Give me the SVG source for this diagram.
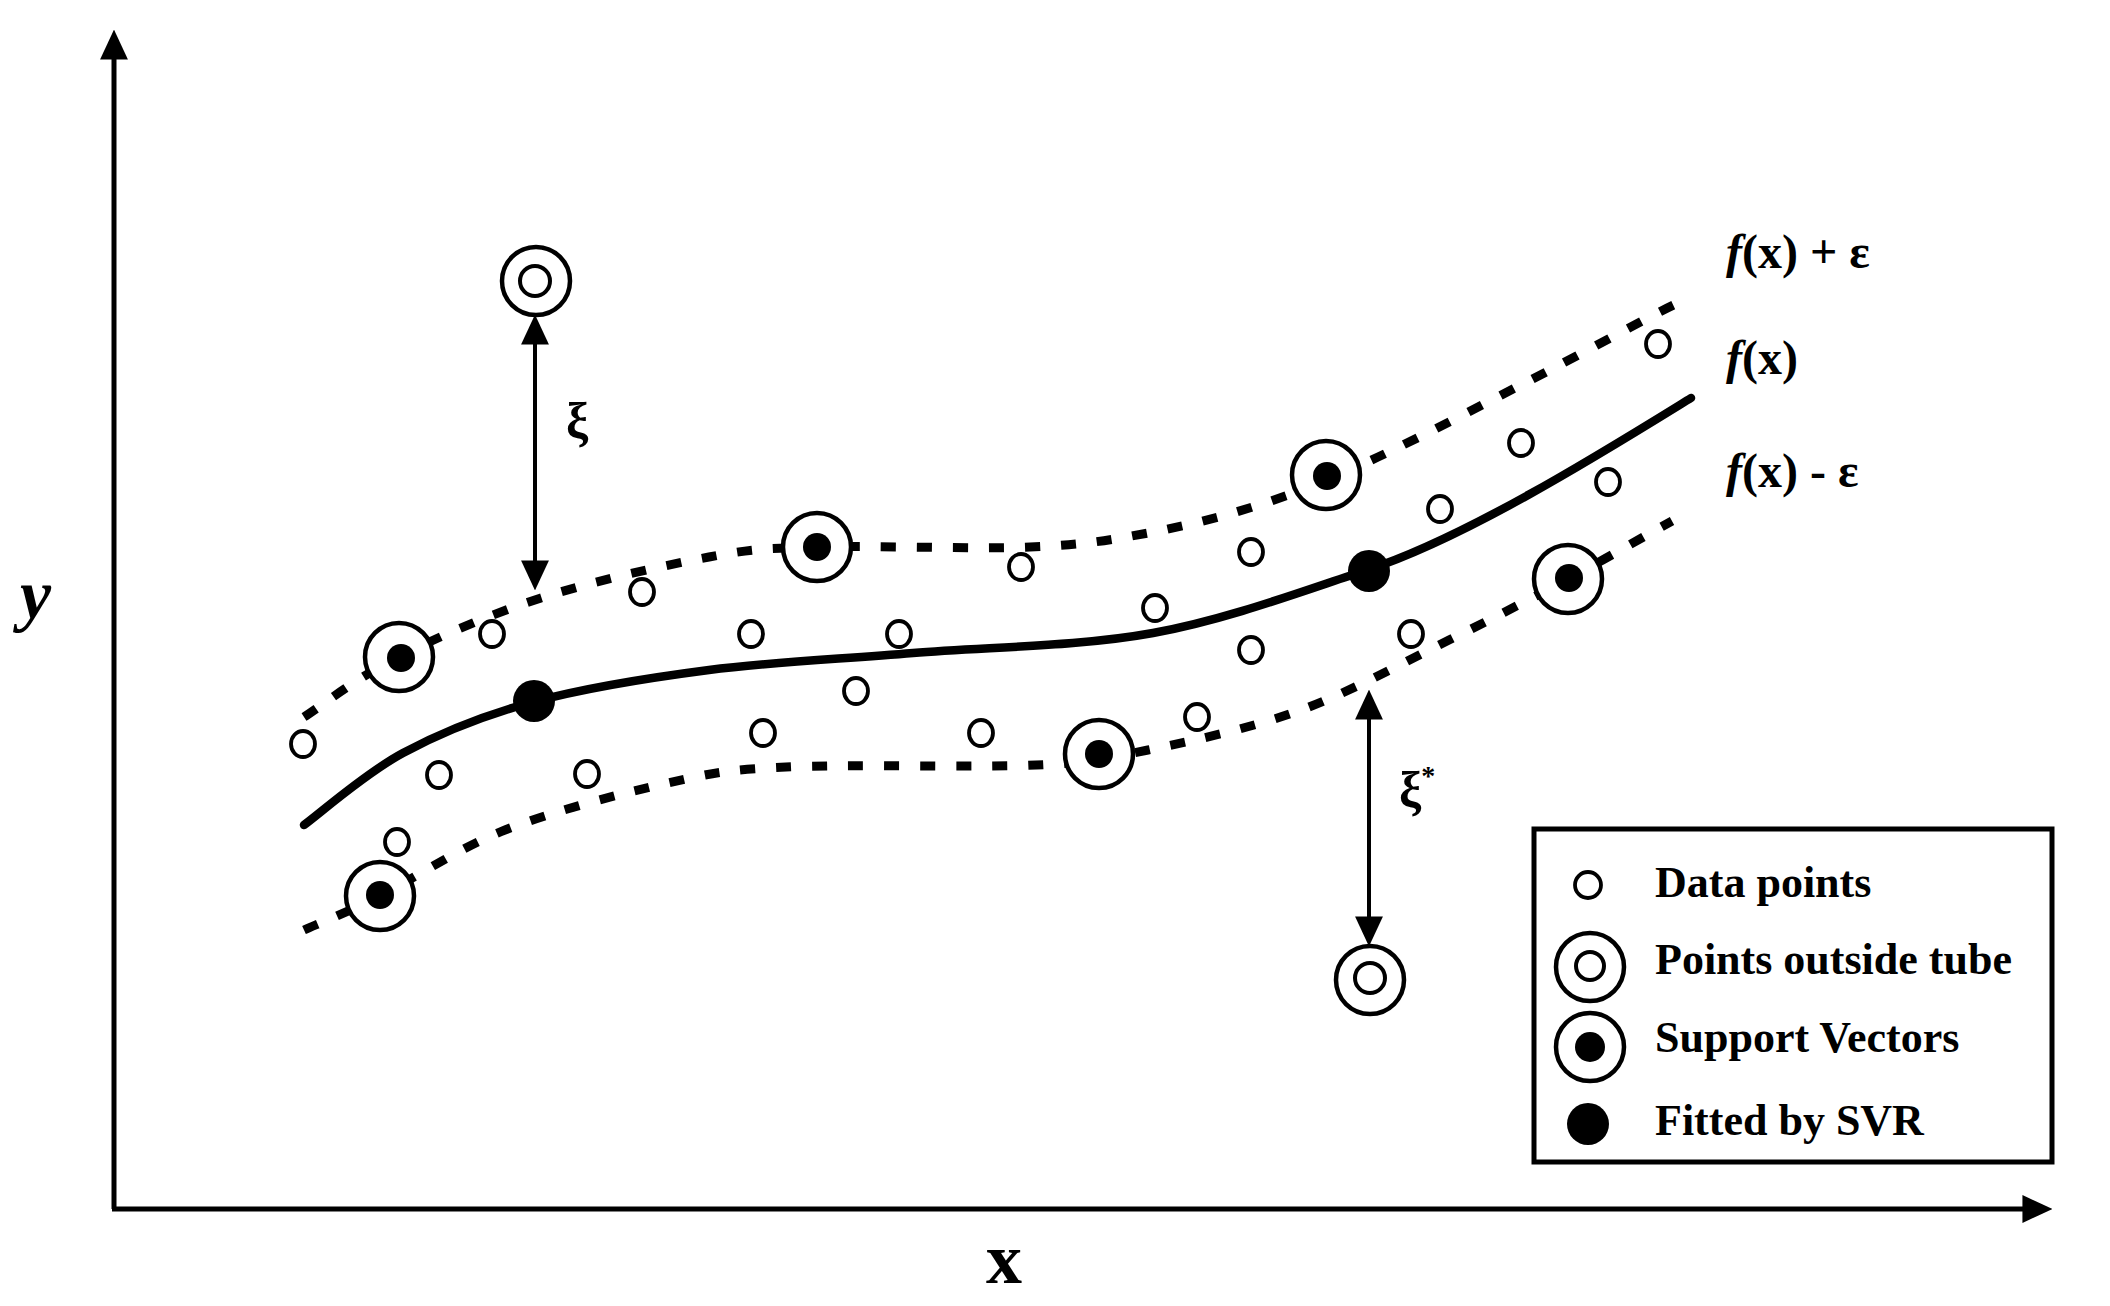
<svg xmlns="http://www.w3.org/2000/svg" width="2110" height="1306" viewBox="0 0 2110 1306">
<style>
.ax{stroke:#000;stroke-width:5;fill:none}
.arr{stroke:#000;stroke-width:4;fill:none}
.fx{stroke:#000;stroke-width:8.5;fill:none;stroke-linecap:round}
.tube{stroke:#000;stroke-width:9;fill:none;stroke-dasharray:15 21}
.dp{fill:#fff;stroke:#000;stroke-width:3.8}
.ring{fill:#fff;stroke:#000;stroke-width:4.5}
.inner{fill:#fff;stroke:#000;stroke-width:4}
.sv{fill:#000}
.fit{fill:#000}
.lbl{font-family:"Liberation Serif","Times New Roman",serif;font-weight:bold;fill:#000}
.box{fill:none;stroke:#000;stroke-width:5}
</style>
<defs>
<marker id="ah" markerUnits="userSpaceOnUse" markerWidth="30" markerHeight="30" viewBox="0 0 28 28" refX="22" refY="14" orient="auto-start-reverse">
<path d="M0,1 L28,14 L0,27 z" fill="#000"/>
</marker>
</defs>
<rect x="0" y="0" width="2110" height="1306" fill="#fff"/>

<g id="axes">
<line class="ax" x1="114" y1="1209" x2="114" y2="36" marker-end="url(#ah)"/>
<line class="ax" x1="112" y1="1209" x2="2046" y2="1209" marker-end="url(#ah)"/>
<text class="lbl" x="20" y="618" font-size="70" font-style="italic">y</text>
<text class="lbl" x="986" y="1283" font-size="72">x</text>
</g>

<g id="curves">
<path id="f-upper" class="tube" d="M304,717 C319.7,707 358.5,676.8 398,657 C437.5,637.2 489.2,614.7 541,598 C592.8,581.3 663.2,565.5 709,557 C754.8,548.5 762.5,548.7 816,547 C869.5,545.3 974.7,549.3 1030,547 C1085.3,544.7 1108.8,540.3 1148,533 C1187.2,525.7 1226.7,515.7 1265,503 C1303.3,490.3 1331.2,478.8 1378,457 C1424.8,435.2 1496.8,397.3 1546,372 C1595.2,346.7 1655,313 1680,302"/>
<path id="f" class="fx" d="M304,825 C320.5,813 364.8,773.5 403,753 C441.2,732.5 482,715.8 533,702 C584,688.2 645.7,678.2 709,670 C772.3,661.8 839,659.2 913,653 C987,646.8 1077.3,646.8 1153,633 C1228.7,619.2 1307.5,589.3 1367,570 C1467,537.6 1610,448 1691,398"/>
<path id="f-lower" class="tube" d="M304,930 C316.3,924.5 344.5,913.7 378,897 C411.5,880.3 456.7,849 505,830 C553.3,811 621.2,793.5 668,783 C714.8,772.5 724.7,770 786,767 C847.3,764 975.7,767.8 1036,765 C1096.3,762.2 1103.8,759.2 1148,750 C1192.2,740.8 1250.8,728.3 1301,710 C1351.2,691.7 1404.8,661.7 1449,640 C1493.2,618.3 1529.5,599.5 1566,580 C1602.5,560.5 1651,532.5 1672,521"/>
</g>

<g id="connectors">
<line id="xi-arrow" class="arr" x1="535" y1="321" x2="535" y2="584" marker-start="url(#ah)" marker-end="url(#ah)"/>
<line id="xistar-arrow" class="arr" x1="1369" y1="696" x2="1369" y2="940" marker-start="url(#ah)" marker-end="url(#ah)"/>
</g>

<g id="data-points">
<ellipse class="dp" cx="303" cy="744" rx="12" ry="13"/>
<ellipse class="dp" cx="439" cy="775" rx="12" ry="13"/>
<ellipse class="dp" cx="397" cy="842" rx="12" ry="13"/>
<ellipse class="dp" cx="492" cy="634" rx="12" ry="13"/>
<ellipse class="dp" cx="587" cy="774" rx="12" ry="13"/>
<ellipse class="dp" cx="642" cy="592" rx="12" ry="13"/>
<ellipse class="dp" cx="751" cy="634" rx="12" ry="13"/>
<ellipse class="dp" cx="763" cy="733" rx="12" ry="13"/>
<ellipse class="dp" cx="856" cy="691" rx="12" ry="13"/>
<ellipse class="dp" cx="899" cy="634" rx="12" ry="13"/>
<ellipse class="dp" cx="981" cy="733" rx="12" ry="13"/>
<ellipse class="dp" cx="1021" cy="567" rx="12" ry="13"/>
<ellipse class="dp" cx="1155" cy="608" rx="12" ry="13"/>
<ellipse class="dp" cx="1197" cy="717" rx="12" ry="13"/>
<ellipse class="dp" cx="1251" cy="552" rx="12" ry="13"/>
<ellipse class="dp" cx="1251" cy="650" rx="12" ry="13"/>
<ellipse class="dp" cx="1411" cy="634" rx="12" ry="13"/>
<ellipse class="dp" cx="1440" cy="509" rx="12" ry="13"/>
<ellipse class="dp" cx="1521" cy="443" rx="12" ry="13"/>
<ellipse class="dp" cx="1608" cy="482" rx="12" ry="13"/>
<ellipse class="dp" cx="1658" cy="344" rx="12" ry="13"/>
</g>

<g id="support-vectors">
<g id="sv1"><circle class="ring" cx="399" cy="657" r="34"/><circle class="sv" cx="401" cy="658" r="14"/></g>
<g id="sv2"><circle class="ring" cx="817" cy="547" r="34"/><circle class="sv" cx="817" cy="547" r="14"/></g>
<g id="sv3"><circle class="ring" cx="1326" cy="475" r="34"/><circle class="sv" cx="1327" cy="476" r="14"/></g>
<g id="sv4"><circle class="ring" cx="380" cy="896" r="34"/><circle class="sv" cx="380" cy="895" r="14"/></g>
<g id="sv5"><circle class="ring" cx="1099" cy="754" r="34"/><circle class="sv" cx="1099" cy="754" r="14"/></g>
<g id="sv6"><circle class="ring" cx="1568" cy="579" r="34"/><circle class="sv" cx="1569" cy="578" r="14"/></g>
</g>

<g id="fitted">
<circle class="fit" cx="534" cy="701" r="21"/>
<circle class="fit" cx="1369" cy="571" r="21"/>
</g>

<g id="outside-points">
<g id="out1"><circle class="ring" cx="536" cy="281" r="34"/><circle class="inner" cx="535" cy="281" r="15"/></g>
<g id="out2"><circle class="ring" cx="1370" cy="980" r="34"/><circle class="inner" cx="1370" cy="978" r="15"/></g>
</g>

<g id="labels">
<text class="lbl" x="1726" y="268" font-size="48"><tspan font-style="italic">f</tspan>(x) + ε</text>
<text class="lbl" x="1726" y="374" font-size="48"><tspan font-style="italic">f</tspan>(x)</text>
<text class="lbl" x="1726" y="487" font-size="48"><tspan font-style="italic">f</tspan>(x) - ε</text>
<text class="lbl" x="566" y="438" font-size="50" font-weight="normal">ξ</text>
<text class="lbl" x="1399" y="807" font-size="50" font-weight="normal">ξ<tspan font-size="28" font-weight="bold" dy="-22">*</tspan></text>
</g>

<g id="legend">
<rect class="box" x="1534" y="829" width="518" height="333"/>
<g id="leg-data"><ellipse class="dp" cx="1588" cy="885" rx="13" ry="13" stroke-width="4"/><text class="lbl" x="1655" y="897" font-size="44">Data points</text></g>
<g id="leg-outside"><circle class="ring" cx="1590" cy="967" r="34"/><circle class="inner" cx="1590" cy="966" r="14"/><text class="lbl" x="1655" y="974" font-size="44">Points outside tube</text></g>
<g id="leg-sv"><circle class="ring" cx="1590" cy="1047" r="34"/><circle class="sv" cx="1590" cy="1047" r="15"/><text class="lbl" x="1655" y="1052" font-size="44">Support Vectors</text></g>
<g id="leg-fit"><circle class="fit" cx="1588" cy="1124" r="21"/><text class="lbl" x="1655" y="1135" font-size="44">Fitted by SVR</text></g>
</g>
</svg>
